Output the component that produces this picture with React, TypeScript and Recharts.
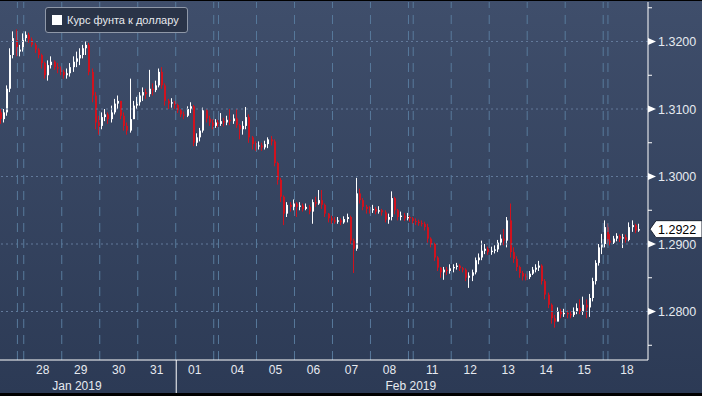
import React from "react";
import { ComposedChart, Bar, XAxis, YAxis, ReferenceLine } from "recharts";

// GBP/USD, 2-hour candles, prices in pips (1.3085 -> 13085)
// sessions: [start hour, candle count, hours per candle]
const sessions: [number, number, number][] = [
  [-1, 6, 2], // Fri 25 Jan (partial)
  [11, 2, 2], // Sun 27
  [15, 60, 2], // Mon 28 - Fri 01
  [135, 2, 1.5], // Sun 03
  [138, 60, 2], // Mon 04 - Fri 08
  [258, 2, 1.5], // Sun 10
  [261, 60, 2], // Mon 11 - Fri 15
  [381, 2, 1.5], // Sun 17
  [384, 10, 2], // Mon 18
];

const firstOpen = 13095;

const closes = [
  13085, 13095, 13130, 13180, 13205, 13185,
  13188, 13205,
  13210, 13203, 13195, 13188, 13180, 13168, 13150, 13165, 13170, 13162, 13160, 13155,
  13150, 13153, 13162, 13170, 13175, 13180, 13190, 13195, 13155, 13120, 13080, 13075,
  13088, 13092, 13085, 13095, 13108, 13112, 13090, 13075, 13068, 13085, 13105, 13110,
  13120, 13125, 13122, 13130, 13128, 13135, 13155, 13135, 13112, 13108, 13110, 13106,
  13098, 13092, 13090, 13100, 13104, 13050, 13058, 13068, 13098, 13086, 13080, 13075,
  13080, 13078,
  13082, 13080, 13084, 13082, 13086, 13076, 13070, 13075, 13088, 13058, 13048, 13045,
  13046, 13043, 13048, 13055, 13052, 13020, 12995, 12970, 12945, 12958, 12955, 12960,
  12955, 12957, 12952, 12955, 12948, 12962, 12960, 12965, 12958, 12945, 12938, 12935,
  12933, 12935, 12932, 12937, 12940, 12905, 12893, 12975, 12965, 12955, 12952, 12950,
  12952, 12948, 12950, 12947, 12936, 12940, 12968, 12950, 12940, 12942, 12938, 12940,
  12938, 12934,
  12933, 12931, 12930, 12925, 12908, 12900, 12880, 12865, 12858, 12862, 12860, 12864,
  12866, 12868, 12864, 12862, 12850, 12853, 12858, 12876, 12880, 12890, 12893, 12888,
  12890, 12892, 12902, 12908, 12905, 12935, 12888, 12878, 12866, 12857, 12852, 12851,
  12856, 12862, 12865, 12868, 12845, 12825, 12810, 12790, 12785, 12800, 12796, 12798,
  12796, 12795, 12800, 12805, 12800, 12810, 12806, 12820, 12845, 12872, 12895, 12900,
  12925, 12905,
  12902, 12908, 12912, 12908, 12910, 12906, 12925, 12928, 12920, 12922,
];

const highs = [
  13100, 13100, 13135, 13190, 13215, 13218,
  13195, 13212,
  13215, 13213, 13206, 13198, 13190, 13182, 13170, 13172, 13178, 13172, 13168, 13163,
  13158, 13160, 13168, 13178, 13185, 13190, 13195, 13200, 13198, 13160, 13125, 13090,
  13095, 13100, 13095, 13105, 13115, 13120, 13112, 13095, 13080, 13145, 13112, 13118,
  13125, 13132, 13130, 13158, 13138, 13142, 13160, 13162, 13138, 13115, 13116, 13112,
  13108, 13100, 13096, 13104, 13110, 13106, 13064, 13072, 13102, 13100, 13090, 13085,
  13085, 13084,
  13094, 13087, 13090, 13100, 13092, 13100, 13078, 13082, 13103, 13092, 13060, 13052,
  13052, 13050, 13053, 13058, 13060, 13055, 13022, 12998, 12972, 12962, 12962, 12966,
  12962, 12962, 12960, 12960, 12958, 12966, 12970, 12980, 12980, 12960, 12946, 12942,
  12940, 12940, 12938, 12941, 12945, 12942, 12908, 12998, 12982, 12968, 12958, 12956,
  12958, 12955, 12956, 12952, 12950, 12945, 12978, 12970, 12952, 12948, 12946, 12946,
  12942, 12940,
  12938, 12936, 12935, 12933, 12930, 12910, 12902, 12882, 12866, 12866, 12866, 12870,
  12870, 12872, 12870, 12866, 12864, 12858, 12862, 12880, 12886, 12905, 12900, 12896,
  12896, 12898, 12906, 12914, 12922, 12940, 12960, 12895, 12882, 12868, 12860, 12856,
  12860, 12866, 12870, 12875, 12870, 12848, 12828, 12812, 12795, 12806, 12804, 12804,
  12802, 12800, 12806, 12812, 12818, 12822, 12818, 12826, 12850, 12876, 12900, 12915,
  12935, 12930,
  12915, 12912, 12916, 12914, 12915, 12914, 12932, 12935, 12930, 12930,
];

const lows = [
  13078, 13080, 13090, 13125, 13175, 13178,
  13178, 13185,
  13200, 13198, 13192, 13183, 13175, 13160, 13145, 13142, 13160, 13158, 13153, 13150,
  13145, 13145, 13148, 13155, 13162, 13165, 13175, 13180, 13150, 13110, 13070, 13062,
  13070, 13082, 13078, 13080, 13092, 13100, 13085, 13068, 13062, 13065, 13085, 13100,
  13105, 13112, 13115, 13118, 13120, 13125, 13132, 13130, 13105, 13100, 13102, 13100,
  13094, 13088, 13085, 13088, 13094, 13045, 13045, 13052, 13065, 13080, 13075, 13070,
  13072, 13073,
  13075, 13074, 13076, 13076, 13078, 13072, 13055, 13062, 13070, 13050, 13040, 13038,
  13040, 13038, 13040, 13042, 13046, 13015, 12988, 12962, 12928, 12940, 12948, 12950,
  12940, 12950, 12948, 12950, 12944, 12930, 12955, 12958, 12952, 12940, 12932, 12930,
  12930, 12930, 12928, 12930, 12932, 12900, 12857, 12890, 12960, 12950, 12945, 12945,
  12946, 12944, 12945, 12942, 12932, 12930, 12935, 12944, 12935, 12935, 12934, 12935,
  12933, 12930,
  12928, 12927, 12926, 12920, 12902, 12895, 12875, 12860, 12850, 12847, 12854, 12856,
  12858, 12862, 12860, 12858, 12845, 12835, 12845, 12855, 12870, 12876, 12885, 12884,
  12884, 12886, 12888, 12898, 12898, 12895, 12880, 12872, 12860, 12850, 12846, 12846,
  12848, 12854, 12858, 12860, 12840, 12818, 12805, 12782, 12776, 12788, 12790, 12792,
  12790, 12790, 12792, 12796, 12796, 12795, 12790, 12792, 12815, 12840, 12868, 12885,
  12895, 12900,
  12898, 12900, 12904, 12903, 12894, 12902, 12904, 12918, 12916, 12918,
];

const dayTicks = [27, 51, 75, 99, 123, 150, 174, 198, 222, 246, 273, 297, 321, 345, 369, 396];
const dayLabels = ["28", "29", "30", "31", "01", "04", "05", "06", "07", "08", "11", "12", "13", "14", "15", "18"];
const dayBounds = [11, 15, 39, 63, 87, 111, 135, 138, 162, 186, 210, 234, 258, 261, 285, 309, 333, 357, 381, 384];
const monthTicks = [48.6, 259.5];
const monthLabels = ["Jan 2019", "Feb 2019"];
const monthSep = 111;

const gridPrices = [1.28, 1.29, 1.3, 1.31, 1.32];
const axisTicks = [1.275, 1.28, 1.285, 1.29, 1.2922, 1.295, 1.3, 1.305, 1.31, 1.315, 1.32, 1.325];
const lastPrice = 12922;

const X_DOMAIN: [number, number] = [0, 409.3];
const Y_DOMAIN: [number, number] = [1.272815, 1.325852];
const PLOT_BOTTOM = 360;
const FONT = "'Liberation Sans', Arial, sans-serif";
const TEXT = "#e6eaf0";
const UP = "#ffffff";
const DOWN = "#d0121e";

const hours: number[] = [];
sessions.forEach(([start, n, step]) => {
  for (let i = 0; i < n; i++) hours.push(start + step * (i + 0.5));
});

const data = closes.map((c, i) => ({
  t: hours[i],
  open: (i === 0 ? firstOpen : closes[i - 1]) / 10000,
  high: highs[i] / 10000,
  low: lows[i] / 10000,
  close: c / 10000,
}));

const Candle = (props: any) => {
  const { x, y, width, height, payload } = props;
  if (x == null || y == null) return null;
  const top = Math.min(y, y + height);
  const h = Math.abs(height);
  const { open, close, high, low } = payload;
  const k = high > low ? h / (high - low) : 0;
  const yOf = (v: number) => top + (high - v) * k;
  const cx = Math.round(x + width / 2);
  const up = close >= open;
  const b1 = yOf(Math.max(open, close));
  const b2 = yOf(Math.min(open, close));
  return (
    <g>
      <line x1={cx + 0.5} x2={cx + 0.5} y1={top} y2={top + h} stroke={up ? UP : DOWN} strokeWidth={1} />
      <rect x={cx} y={b1} width={2} height={Math.max(1, b2 - b1)} fill={up ? UP : DOWN} />
    </g>
  );
};

const PriceTick = (props: any) => {
  const { x, y, payload } = props;
  const pips = Math.round(payload.value * 10000);
  if (pips === lastPrice) {
    return (
      <g>
        <polygon
          points={`${x + 2},${y} ${x + 8},${y - 8.5} ${x + 54},${y - 8.5} ${x + 54},${y + 8.5} ${x + 8},${y + 8.5}`}
          fill="#ffffff"
          stroke="#1b2333"
          strokeWidth={1}
        />
        <text x={x + 10} y={y} dy="0.36em" fill="#000" fontSize={12.5} fontFamily={FONT}>
          {(pips / 10000).toFixed(4)}
        </text>
      </g>
    );
  }
  if (pips % 100 === 0) {
    return (
      <g>
        <polygon points={`${x},${y - 3.5} ${x + 8},${y} ${x},${y + 3.5}`} fill="#ffffff" />
        <text x={x + 10} y={y} dy="0.36em" fill={TEXT} fontSize={12.5} fontFamily={FONT}>
          {(pips / 10000).toFixed(4)}
        </text>
      </g>
    );
  }
  return <line x1={x} x2={x + 4} y1={y} y2={y} stroke="#ffffff" />;
};

const MonthTick = (props: any) => {
  const { x, y, payload } = props;
  const i = monthTicks.indexOf(payload.value);
  if (i < 0) {
    return <line x1={x + 0.5} x2={x + 0.5} y1={PLOT_BOTTOM} y2={393} stroke="#ffffff" />;
  }
  return (
    <text x={x} y={y} dy="0.71em" textAnchor="middle" fill={TEXT} fontSize={12} fontFamily={FONT}>
      {monthLabels[i]}
    </text>
  );
};

export default function App() {
  return (
    <div style={{ position: "absolute", left: 0, top: 0, width: 702, height: 396, background: "#000" }}>
      <div
        style={{
          position: "absolute",
          left: 0,
          top: 1,
          width: 702,
          height: 392,
          background: "linear-gradient(#3f4e6b, #2c3a55)",
        }}
      />
      <div style={{ position: "absolute", left: 0, top: 0 }}>
        <ComposedChart width={702} height={396} data={data} margin={{ top: 2, right: 0, bottom: 3, left: 0 }}>
          <XAxis
            xAxisId="day"
            dataKey="t"
            type="number"
            domain={X_DOMAIN}
            allowDataOverflow
            ticks={dayTicks}
            interval={0}
            tickFormatter={(v) => dayLabels[dayTicks.indexOf(v)]}
            tickLine={false}
            tickSize={0}
            tickMargin={5}
            axisLine={{ stroke: "#ffffff" }}
            tick={{ fill: TEXT, fontSize: 12, fontFamily: FONT }}
            height={20}
          />
          <XAxis
            xAxisId="month"
            dataKey="t"
            type="number"
            domain={X_DOMAIN}
            allowDataOverflow
            ticks={[...monthTicks, monthSep]}
            interval={0}
            tickLine={false}
            tickSize={0}
            tickMargin={1}
            axisLine={false}
            tick={<MonthTick />}
            height={13}
          />
          <YAxis
            orientation="right"
            type="number"
            domain={Y_DOMAIN}
            allowDataOverflow
            ticks={axisTicks}
            interval={0}
            width={54}
            tickLine={false}
            tickSize={0}
            tickMargin={0}
            axisLine={{ stroke: "#ffffff" }}
            tick={<PriceTick />}
          />
          {gridPrices.map((p) => (
            <ReferenceLine key={p} xAxisId="day" y={p} stroke="#62799a" strokeDasharray="2 3" />
          ))}
          {dayBounds.map((b) => (
            <ReferenceLine key={b} xAxisId="day" x={b} stroke="#587a9c" strokeDasharray="9 7" />
          ))}
          <Bar
            xAxisId="day"
            dataKey={(d: any) => [d.low, d.high]}
            barSize={2}
            shape={<Candle />}
            isAnimationActive={false}
          />
        </ComposedChart>
      </div>
      <div
        style={{
          position: "absolute",
          left: 45,
          top: 7,
          width: 143,
          height: 26,
          boxSizing: "border-box",
          border: "1px solid #8f98a8",
          borderRadius: 3,
          background: "#2a3448",
          display: "flex",
          alignItems: "center",
          whiteSpace: "nowrap",
          fontFamily: FONT,
          fontSize: 11,
          color: "#e8eaee",
        }}
      >
        <div style={{ width: 10, height: 10, background: "#fff", marginLeft: 6, marginRight: 5, flex: "none" }} />
        <span>Курс фунта к доллару</span>
      </div>
    </div>
  );
}
